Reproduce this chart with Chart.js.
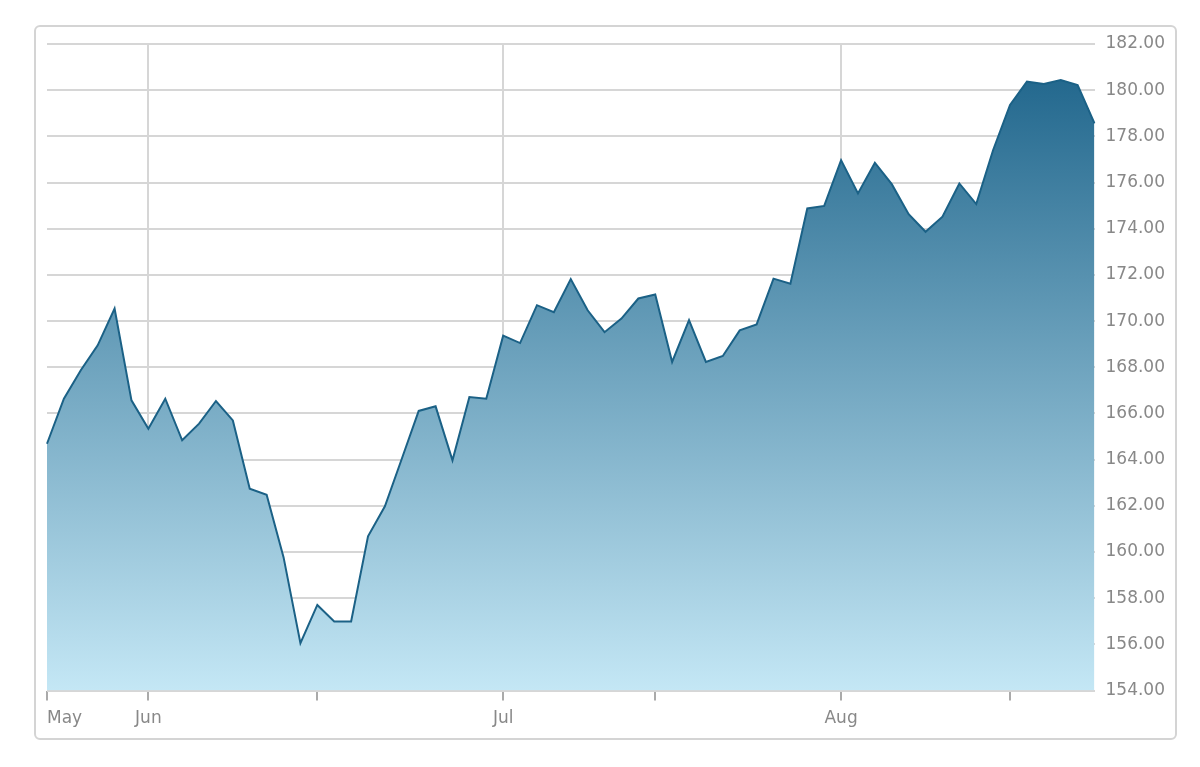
<!DOCTYPE html>
<html>
<head>
<meta charset="utf-8">
<script src="https://cdn.jsdelivr.net/npm/chart.js@4"></script>
<style>
  html, body { margin: 0; padding: 0; background: #fff; }
  #frame {
    position: absolute; left: 34px; top: 25px;
    width: 1139px; height: 711px;
    border: 2px solid #d4d4d4; border-radius: 6px;
  }
  #wrap { position: absolute; left: 0; top: 0; width: 1200px; height: 767px; }
</style>
</head>
<body>
<div id="frame"></div>
<div id="wrap"><canvas id="chart" width="1200" height="767"></canvas></div>
<script>
// cotação diária
const values = [
  164.69, 166.64, 167.87, 168.95, 170.54, 166.57, 165.34, 166.64, 164.84, 165.56,
  166.54, 165.70, 162.74, 162.48, 159.78, 156.05, 157.71, 156.99, 156.99, 160.68,
  161.98, 164.04, 166.11, 166.31, 163.97, 166.71, 166.64, 169.37, 169.05, 170.69,
  170.39, 171.82, 170.47, 169.52, 170.11, 170.98, 171.15, 168.23, 170.04, 168.23,
  168.49, 169.60, 169.86, 171.84, 171.62, 174.88, 174.99, 176.97, 175.53, 176.86,
  175.93, 174.63, 173.87, 174.52, 175.96, 175.07, 177.41, 179.36, 180.37, 180.27,
  180.44, 180.22, 178.56
];

// marcas do eixo x
const monthIdx = [0, 6, 27, 47];
const monthNames = ['May', 'Jun', 'Jul', 'Aug'];
const minorIdx = [16, 36, 57];

// eixo y
const yMin = 154;
const yMax = 182;
const yStep = 2;

const categories = values.map((v, i) => {
  const k = monthIdx.indexOf(i);
  return k >= 0 ? monthNames[k] : '';
});

const tickFont = { family: 'DejaVu Sans', size: 17 };

function areaGradient(context) {
  const area = context.chart.chartArea;
  if (!area) return 'rgba(120,170,200,0.6)';
  const g = context.chart.ctx.createLinearGradient(0, area.top, 0, area.bottom);
  g.addColorStop(0, '#1a6188');
  g.addColorStop(1, '#c4e7f5');
  return g;
}

const config = {
  type: 'line',
  data: {
    labels: categories,
    datasets: [{
      data: values,
      borderColor: '#1b6186',
      borderWidth: 2,
      backgroundColor: areaGradient,
      fill: 'start',
      pointRadius: 0,
      tension: 0
    }]
  },
  options: {
    responsive: false,
    animation: false,
    layout: { padding: { left: 47, top: 44, right: 24, bottom: 30 } },
    plugins: { legend: { display: false }, tooltip: { enabled: false } },
    scales: {
      x: {
        type: 'category',
        offset: false,
        border: { display: false },
        grid: {
          lineWidth: 2,
          color: ctx => [6, 27, 47].includes(ctx.index) ? '#d6d6d6' : 'rgba(0,0,0,0)',
          tickColor: ctx => (monthIdx.includes(ctx.index) || minorIdx.includes(ctx.index)) ? '#aaaaaa' : 'rgba(0,0,0,0)',
          tickLength: 10,
          tickWidth: 2
        },
        ticks: {
          autoSkip: false,
          maxRotation: 0,
          align: 'inner',
          padding: 8,
          color: '#888',
          font: tickFont,
          callback: (v, i) => categories[i]
        }
      },
      y: {
        position: 'right',
        min: yMin,
        max: yMax,
        border: { display: false },
        grid: { color: '#d6d6d6', lineWidth: 2, drawTicks: false },
        ticks: {
          stepSize: yStep,
          padding: 11,
          color: '#888',
          font: tickFont,
          callback: v => v.toFixed(2)
        }
      }
    }
  }
};

window.onload = function() {
  const ctx = document.getElementById('chart').getContext('2d');
  new Chart(ctx, config);
};
</script>
</body>
</html>
